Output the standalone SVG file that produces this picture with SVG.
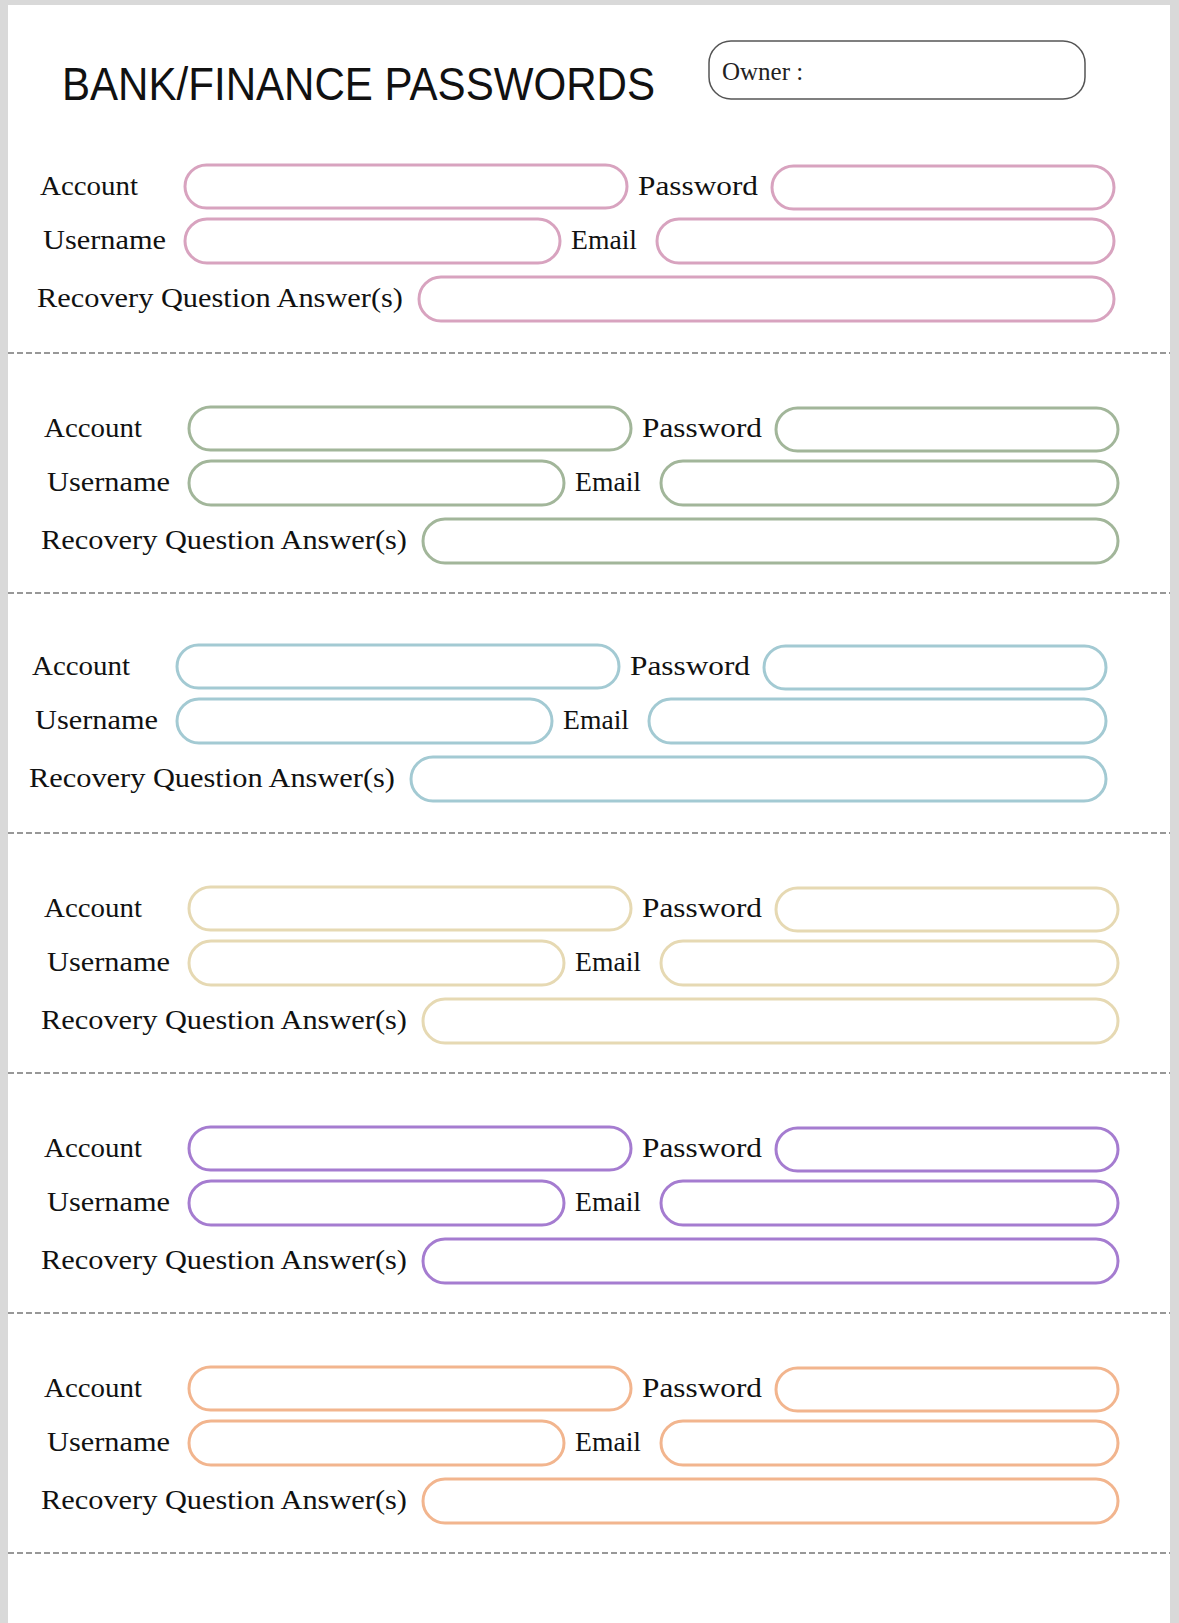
<svg xmlns="http://www.w3.org/2000/svg" xmlns:xlink="http://www.w3.org/1999/xlink" width="1179" height="1623" viewBox="0 0 1179 1623">
<style>
.lbl{font-family:"Liberation Serif",serif;font-size:27px;fill:#111;stroke:none}
.f{fill:none;stroke-width:3}
.dash{stroke:#777;stroke-width:1.5;stroke-dasharray:6 3}
.pink{stroke:#d8a3bf}.green{stroke:#a2b69a}.blue{stroke:#a3cad3}.beige{stroke:#e6d9b3}.purple{stroke:#a57cd0}.orange{stroke:#f2b58e}
</style>
<defs>
<g id="sec">
<rect class="f" x="189" y="407" width="442" height="43" rx="21.5"/>
<rect class="f" x="776" y="408" width="342" height="43" rx="21.5"/>
<rect class="f" x="189" y="461" width="375" height="44" rx="22"/>
<rect class="f" x="661" y="461" width="457" height="44" rx="22"/>
<rect class="f" x="423" y="519" width="695" height="44" rx="22"/>
<text class="lbl" x="44" y="437" textLength="98" lengthAdjust="spacingAndGlyphs">Account</text>
<text class="lbl" x="642" y="437" textLength="120" lengthAdjust="spacingAndGlyphs">Password</text>
<text class="lbl" x="47" y="491" textLength="123" lengthAdjust="spacingAndGlyphs">Username</text>
<text class="lbl" x="575" y="491" textLength="66" lengthAdjust="spacingAndGlyphs">Email</text>
<text class="lbl" x="41" y="549" textLength="366" lengthAdjust="spacingAndGlyphs">Recovery Question Answer(s)</text>
</g>
</defs>
<rect width="1179" height="1623" fill="#d9d9d9"/>
<rect x="8" y="5" width="1162" height="1618" fill="#fff"/>
<g id="header">
<text x="62" y="100" font-family="'Liberation Sans',sans-serif" font-size="46" fill="#111" textLength="593" lengthAdjust="spacingAndGlyphs">BANK/FINANCE PASSWORDS</text>
<rect x="709" y="41" width="376" height="58" rx="22" fill="none" stroke="#555" stroke-width="1.5"/>
<text x="722" y="80" font-family="'Liberation Serif',serif" font-size="25" fill="#222">Owner :</text>
</g>
<g id="section1" class="pink" transform="translate(-4,-242)"><use xlink:href="#sec"/></g>
<g id="section2" class="green"><use xlink:href="#sec"/></g>
<g id="section3" class="blue" transform="translate(-12,238)"><use xlink:href="#sec"/></g>
<g id="section4" class="beige" transform="translate(0,480)"><use xlink:href="#sec"/></g>
<g id="section5" class="purple" transform="translate(0,720)"><use xlink:href="#sec"/></g>
<g id="section6" class="orange" transform="translate(0,960)"><use xlink:href="#sec"/></g>
<g id="separators">
<line class="dash" x1="8" y1="353" x2="1170" y2="353"/>
<line class="dash" x1="8" y1="593" x2="1170" y2="593"/>
<line class="dash" x1="8" y1="833" x2="1170" y2="833"/>
<line class="dash" x1="8" y1="1073" x2="1170" y2="1073"/>
<line class="dash" x1="8" y1="1313" x2="1170" y2="1313"/>
<line class="dash" x1="8" y1="1553" x2="1170" y2="1553"/>
</g>
</svg>
